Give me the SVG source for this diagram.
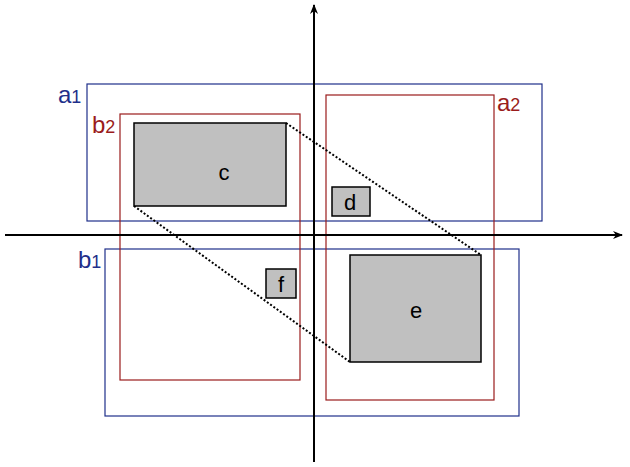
<svg xmlns="http://www.w3.org/2000/svg" width="630" height="467" viewBox="0 0 630 467">
<defs><marker id="ar" markerWidth="10" markerHeight="8" refX="9" refY="4" orient="auto" markerUnits="userSpaceOnUse"><path d="M0,0 L10,4 L0,8 L3,4 Z" fill="#000"/></marker></defs>
<style>
.bl{fill:none;stroke:#1f2f8a;stroke-width:1.2}
.rd{fill:none;stroke:#9a1c1c;stroke-width:1.2}
.g{fill:#c0c0c0;stroke:#000;stroke-width:1.5}
.t{font-family:"Liberation Sans",Arial,sans-serif;font-size:22px;text-anchor:middle;fill:#000}
.lb{font-family:"Liberation Sans",Arial,sans-serif;font-size:24px}
.dot{stroke:#000;stroke-width:2;stroke-dasharray:2,2;fill:none}
</style>
<rect width="630" height="467" fill="#fff"/>
<g id="a1"><rect class="bl" x="87" y="84" width="455" height="137"/><text class="lb" x="58" y="103" fill="#1f2f8a">a<tspan font-size="18">1</tspan></text></g>
<g id="b1"><rect class="bl" x="105" y="249" width="414" height="167"/><text class="lb" x="78" y="268" fill="#1f2f8a">b<tspan font-size="18">1</tspan></text></g>
<g id="b2"><rect class="rd" x="120" y="114" width="180" height="266"/><text class="lb" x="92" y="133" fill="#9a1c1c">b<tspan font-size="18">2</tspan></text></g>
<g id="a2"><rect class="rd" x="326" y="95" width="168" height="305"/><text class="lb" x="497" y="111" fill="#9a1c1c">a<tspan font-size="18">2</tspan></text></g>
<g id="connectors">
<line x1="5" y1="235" x2="622" y2="235" stroke="#000" stroke-width="2" marker-end="url(#ar)"/>
<line x1="314" y1="462" x2="314" y2="5" stroke="#000" stroke-width="2" marker-end="url(#ar)"/>
<line class="dot" x1="286" y1="123" x2="481" y2="255"/>
<line class="dot" x1="134" y1="206" x2="350" y2="362"/>
</g>
<g id="c"><rect class="g" x="134" y="123" width="152" height="83"/><text class="t" x="224" y="180">c</text></g>
<g id="d"><rect class="g" x="332" y="187" width="38" height="29"/><text class="t" x="350" y="210">d</text></g>
<g id="e"><rect class="g" x="350" y="255" width="131" height="107"/><text class="t" x="416" y="318">e</text></g>
<g id="f"><rect class="g" x="266" y="269" width="30" height="29"/><text class="t" x="281" y="292">f</text></g>
</svg>
